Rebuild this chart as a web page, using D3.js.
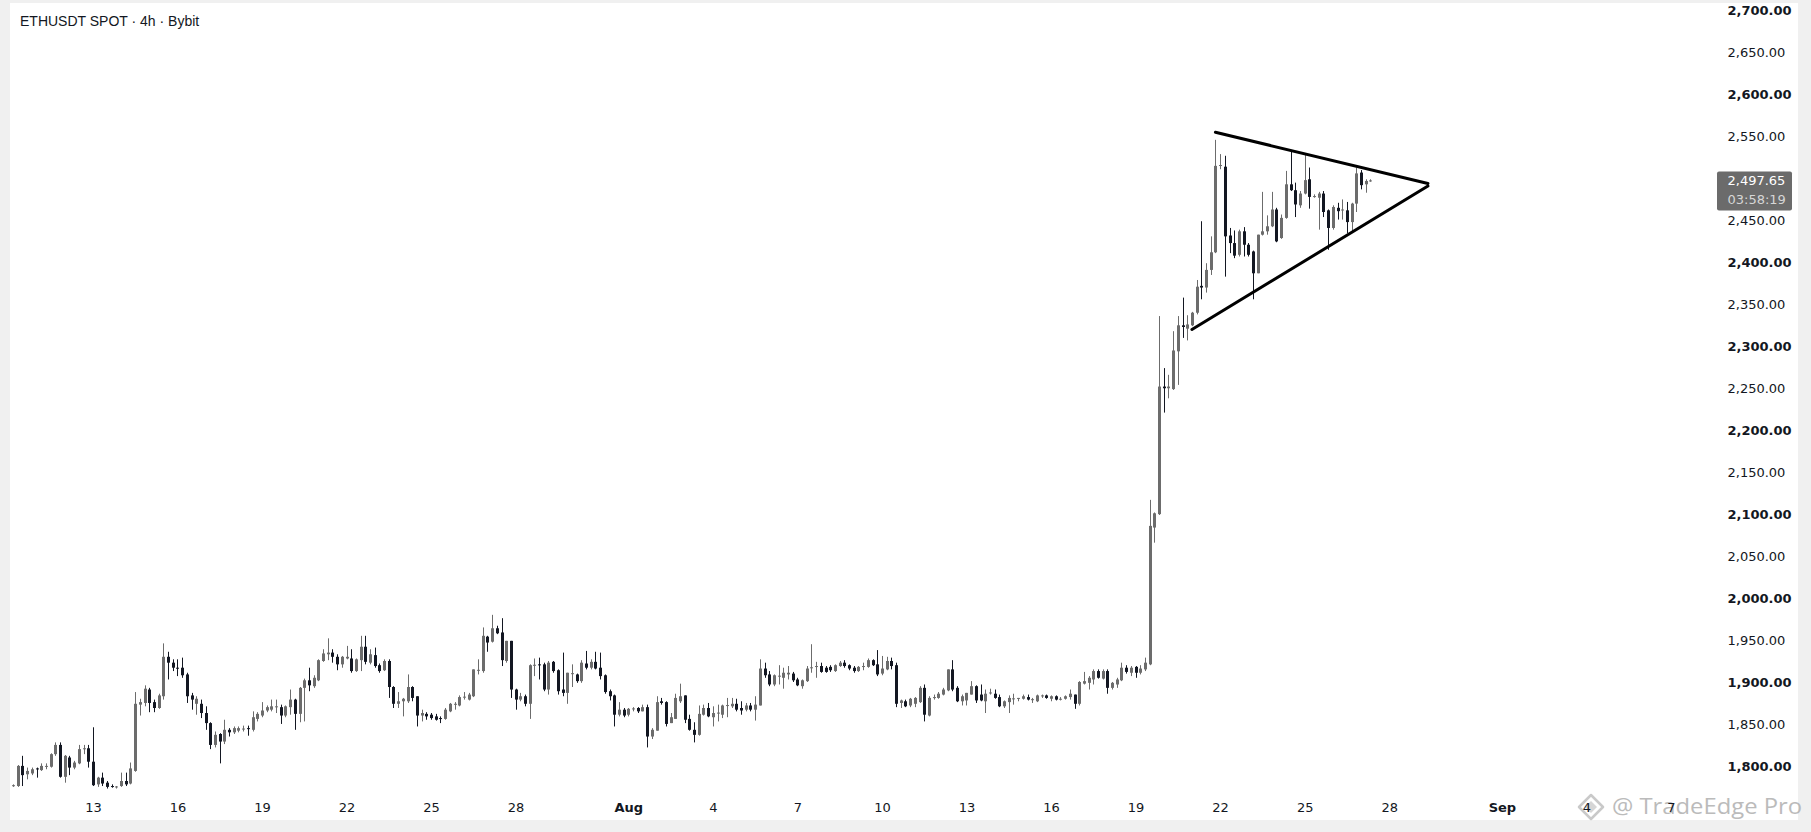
<!DOCTYPE html>
<html><head><meta charset="utf-8">
<script src="https://cdn.jsdelivr.net/npm/d3@7"></script>
<style>html,body{margin:0;padding:0;background:#f0f0f0;overflow:hidden}svg{display:block}</style>
</head><body>
<svg id="c" width="1811" height="832"></svg>
<script>
const title = "ETHUSDT SPOT · 4h · Bybit";
const startTime = "2023-07-10T04:00:00Z";
const barHours = 4;
const opens = [
1776,1776,1800,1790,1791,1797,1795,1799,1799,1814,
1825,1787,1810,1798,1803,1820,1821,1805,1778,1786,
1780,1776,1775,1776,1782,1779,1794,1873,1875,1891,
1876,1869,1883,1930,1923,1917,1917,1909,1884,1874,
1874,1863,1851,1825,1838,1829,1843,1840,1842,1844,
1845,1843,1856,1860,1866,1867,1870,1870,1860,1870,
1879,1862,1893,1902,1895,1902,1925,1933,1935,1930,
1921,1928,1928,1913,1926,1942,1923,1932,1920,1914,
1925,1894,1874,1877,1877,1894,1883,1860,1862,1861,
1859,1857,1856,1865,1873,1872,1882,1879,1883,1914,
1913,1954,1948,1964,1959,1925,1949,1891,1879,1883,
1874,1920,1921,1921,1891,1924,1914,1891,1887,1910,
1909,1901,1922,1917,1924,1917,1908,1889,1884,1861,
1867,1861,1868,1869,1865,1870,1835,1842,1877,1876,
1851,1856,1877,1884,1856,1843,1837,1861,1869,1858,
1863,1861,1872,1871,1874,1869,1867,1872,1867,1872,
1916,1909,1897,1907,1905,1909,1910,1903,1895,1901,
1917,1918,1919,1917,1918,1913,1919,1923,1920,1917,
1913,1918,1918,1926,1921,1910,1915,1925,1920,1875,
1877,1872,1874,1876,1893,1860,1881,1881,1885,1890,
1915,1893,1877,1878,1885,1895,1885,1877,1887,1886,
1882,1871,1876,1880,1880,1880,1882,1879,1877,1883,
1884,1880,1883,1879,1880,1882,1885,1874,1898,1899,
1903,1913,1904,1913,1893,1897,1902,1917,1911,1918,
1911,1915,1921,2084,2100,2252,2250,2249,2294,2325,
2321,2325,2340,2372,2370,2391,2412,2515,2514,2432,
2423,2409,2437,2421,2413,2387,2433,2437,2443,2463,
2429,2453,2493,2486,2468,2482,2499,2478,2477,2482,
2462,2441,2465,2462,2462,2448,2470,2507,2493,2497
];
const highs = [
1778,1801,1812,1798,1798,1798,1803,1803,1815,1828,
1828,1813,1812,1806,1825,1825,1825,1846,1787,1792,
1782,1778,1776,1792,1792,1804,1888,1880,1896,1893,
1879,1886,1946,1936,1927,1927,1929,1911,1887,1883,
1879,1871,1852,1841,1839,1855,1845,1847,1847,1848,
1848,1865,1864,1876,1872,1879,1879,1873,1872,1891,
1880,1894,1904,1917,1908,1927,1939,1952,1939,1933,
1931,1943,1939,1928,1955,1955,1939,1941,1922,1927,
1927,1895,1888,1881,1909,1895,1883,1867,1864,1863,
1862,1859,1869,1875,1876,1884,1888,1887,1915,1927,
1965,1955,1980,1967,1976,1949,1949,1892,1887,1885,
1921,1928,1929,1923,1925,1925,1915,1935,1911,1921,
1910,1926,1937,1927,1936,1935,1909,1891,1885,1876,
1869,1869,1870,1870,1873,1873,1845,1883,1881,1877,
1863,1886,1898,1884,1861,1852,1872,1873,1875,1871,
1873,1873,1881,1881,1880,1877,1875,1875,1883,1927,
1923,1913,1909,1920,1917,1919,1912,1905,1903,1919,
1945,1924,1923,1919,1920,1921,1925,1926,1921,1919,
1919,1923,1928,1927,1938,1931,1930,1929,1923,1879,
1879,1881,1882,1895,1897,1883,1885,1888,1893,1915,
1926,1895,1885,1887,1901,1896,1897,1891,1892,1891,
1885,1878,1884,1886,1881,1885,1885,1881,1885,1885,
1885,1884,1884,1882,1884,1891,1885,1901,1912,1907,
1915,1915,1915,1915,1900,1905,1923,1920,1919,1919,
1920,1929,2117,2102,2336,2274,2266,2318,2336,2358,
2337,2341,2379,2449,2399,2431,2546,2529,2527,2441,
2438,2439,2442,2423,2414,2433,2484,2456,2484,2465,
2457,2509,2532,2495,2485,2530,2513,2481,2484,2485,
2463,2468,2471,2475,2472,2471,2513,2510,2499,2499
];
const lows = [
1775,1775,1776,1784,1789,1786,1794,1796,1798,1812,
1786,1780,1789,1796,1802,1814,1798,1776,1775,1776,
1773,1774,1773,1775,1776,1778,1793,1860,1871,1864,
1864,1868,1879,1903,1913,1907,1905,1875,1867,1861,
1857,1843,1820,1822,1803,1826,1835,1838,1840,1841,
1836,1841,1853,1858,1864,1865,1863,1850,1858,1861,
1843,1852,1853,1889,1893,1901,1924,1926,1923,1914,
1917,1927,1911,1912,1913,1921,1921,1917,1911,1913,
1881,1869,1869,1859,1875,1877,1847,1853,1855,1855,
1854,1851,1855,1864,1867,1871,1879,1878,1882,1909,
1911,1936,1947,1957,1919,1923,1881,1867,1877,1871,
1856,1907,1903,1889,1885,1911,1885,1883,1874,1894,
1899,1899,1915,1915,1915,1903,1886,1878,1847,1859,
1858,1859,1865,1863,1865,1822,1832,1842,1873,1847,
1851,1856,1875,1851,1842,1828,1836,1860,1858,1847,
1853,1857,1858,1869,1865,1861,1865,1865,1854,1872,
1905,1895,1895,1897,1892,1903,1900,1895,1892,1900,
1911,1905,1911,1911,1912,1912,1918,1917,1914,1911,
1912,1914,1917,1919,1907,1908,1914,1915,1870,1869,
1870,1870,1870,1875,1853,1859,1879,1880,1884,1889,
1889,1876,1872,1872,1885,1875,1877,1863,1885,1880,
1870,1869,1863,1873,1877,1879,1878,1875,1876,1881,
1880,1877,1878,1878,1879,1879,1868,1872,1897,1891,
1897,1904,1903,1886,1891,1893,1901,1910,1907,1905,
1909,1913,1920,2066,2099,2221,2238,2248,2254,2310,
2307,2324,2338,2356,2364,2385,2411,2511,2383,2411,
2405,2407,2407,2407,2356,2387,2432,2433,2442,2424,
2428,2452,2485,2454,2465,2481,2464,2477,2439,2454,
2415,2439,2451,2451,2435,2437,2460,2487,2483,2496
];
const closes = [
1777,1800,1789,1794,1796,1796,1800,1800,1814,1825,
1787,1812,1798,1804,1820,1821,1805,1777,1786,1779,
1775,1775,1775.5,1782,1778,1797,1874,1876,1892,1875,
1869,1884,1930,1923,1917,1916,1908,1883,1879,1880,
1863,1851,1825,1837,1829,1843,1840,1845,1845,1844.5,
1844,1858,1862,1866,1870,1871,1871,1860,1871,1879,
1862,1893,1902,1896,1905,1926,1934,1935,1930,1921,
1930,1930,1913,1927,1942,1924,1933,1919,1913,1925,
1894,1874,1877,1880,1894,1881,1860,1863,1859,1857,
1855,1856,1867,1874,1874,1882,1882.5,1885,1915,1914.5,
1955,1947,1964,1958,1926,1949,1891,1879,1883,1874,
1920,1920.5,1920,1891,1923,1913,1889,1887,1911,1910.5,
1901,1923,1917,1924,1916,1907,1888,1883,1861,1867,
1860,1868,1868.5,1865,1870,1835,1843,1876,1875,1850,
1858,1881,1883,1855,1843,1837,1862,1869,1859,1863,
1863.5,1872,1872.5,1874,1867,1866,1872,1867,1873,1916,
1908,1897,1908,1907.5,1911,1911,1902,1896,1902,1916,
1917.5,1919,1912,1912,1914,1920,1923,1919,1916,1913,
1918,1919,1926,1920,1909,1916,1925,1919,1874,1878,
1871,1880,1881,1893,1861,1881,1882,1886,1891,1915,
1891,1877,1883,1887,1895,1878,1878,1886,1887.5,1881,
1871,1877,1881,1880.5,1881,1883,1879,1879.5,1884,1884,
1881,1883,1879,1880,1883,1886,1874,1900,1901,1905,
1913,1905,1913,1893,1899,1903,1917,1912,1917,1911,
1916,1923,2086,2101,2252,2250,2252,2295,2325,2323,
2326,2340,2371,2370,2391,2412,2515,2516,2431,2423,
2408,2437,2421,2409,2387,2433,2437,2443,2463,2425,
2453,2493,2486,2469,2482,2498,2478,2479,2482,2460,
2441,2466,2461,2463,2448,2470,2506,2492,2497,2497.65
];
// 2,500.00 is hidden behind the last-price label in the reference
const priceTicks = [1800,1850,1900,1950,2000,2050,2100,2150,2200,2250,2300,2350,2400,2450,2550,2600,2650,2700];
const dateTicks = ["2023-07-13","2023-07-16","2023-07-19","2023-07-22","2023-07-25","2023-07-28","2023-08-01","2023-08-04","2023-08-07","2023-08-10","2023-08-13","2023-08-16","2023-08-19","2023-08-22","2023-08-25","2023-08-28","2023-09-01","2023-09-04","2023-09-07"];
const dateLabels = ["13","16","19","22","25","28","Aug","4","7","10","13","16","19","22","25","28","Sep","4","7"];
const lastPrice = 2497.65;
const countdown = "03:58:19";
const upperLine = [["2023-08-21T20:00:00Z",2555],["2023-08-29T09:00:00Z",2494]];
const lowerLine = [["2023-08-21T00:00:00Z",2320],["2023-08-29T09:00:00Z",2491]];
const watermark = "@ TradeEdge Pro";

const W = 1811, H = 832;
const UP = "#6c6c6c", DOWN = "#131722";
const svg = d3.select("#c");
svg.append("rect").attr("width", W).attr("height", H).attr("fill", "#f0f0f0");
svg.append("rect").attr("x", 10).attr("y", 3).attr("width", 1788).attr("height", 817).attr("fill", "#ffffff");

const t0 = d3.isoParse(startTime);
const times = opens.map((_, i) => new Date(t0.getTime() + i * barHours * 3600e3));
const tickDates = dateTicks.map(s => d3.isoParse(s + "T00:00:00Z"));
const x = d3.scaleUtc().domain([tickDates[0], tickDates[tickDates.length - 1]]).range([92.9, 1671]);
const y = d3.scaleLinear().domain([1800, 2700]).range([765.9, 10.6]);

// title
svg.append("text").attr("x", 20).attr("y", 26).attr("font-family", "Liberation Sans, Arial, sans-serif")
  .attr("font-size", 14).attr("fill", "#131722").text(title);

// candles
const bars = opens.map((o, i) => ({ t: times[i], o, h: highs[i], l: lows[i], c: closes[i] }));
const cg = svg.append("g");
const cs = cg.selectAll("g").data(bars).join("g");
cs.append("line")
  .attr("x1", d => Math.round(x(d.t)) + 0.5).attr("x2", d => Math.round(x(d.t)) + 0.5)
  .attr("y1", d => y(d.h)).attr("y2", d => y(d.l))
  .attr("stroke", d => d.c >= d.o ? UP : DOWN).attr("stroke-width", 1);
cs.append("rect")
  .attr("x", d => Math.round(x(d.t)) - 1)
  .attr("width", 3)
  .attr("y", d => y(Math.max(d.o, d.c)))
  .attr("height", d => Math.max(1, y(Math.min(d.o, d.c)) - y(Math.max(d.o, d.c))))
  .attr("fill", d => d.c >= d.o ? UP : DOWN);

// triangle lines
const ln = d3.line().x(d => x(d3.isoParse(d[0]))).y(d => y(d[1]));
[upperLine, lowerLine].forEach(L => {
  svg.append("path").attr("d", ln(L)).attr("fill", "none").attr("stroke", "#000")
    .attr("stroke-width", 3).attr("stroke-linecap", "round");
});

// watermark
const wm = svg.append("g").attr("opacity", 0.9);
wm.append("path").attr("d", "M1591,795 L1603,807 L1591,819 L1579,807 Z").attr("fill", "none")
  .attr("stroke", "#c4c4c4").attr("stroke-width", 2.5).attr("stroke-linejoin", "round");
wm.append("path").attr("d", "M1591,801 L1597,807 L1591,813 L1585,807 Z").attr("fill", "#d2d2d2");
wm.append("text").attr("x", 1612).attr("y", 814).attr("font-family", "Open Sans, sans-serif")
  .attr("font-size", 21.5).attr("fill", "#b4b4b4").attr("textLength", 190)
  .attr("lengthAdjust", "spacingAndGlyphs").text(watermark);

// x axis
const xAxis = d3.axisBottom(x).tickValues(tickDates).tickFormat((d, i) => dateLabels[i]).tickSize(0).tickPadding(0);
const xg = svg.append("g").attr("transform", "translate(0,802.5)").call(xAxis);
xg.select(".domain").remove();
xg.selectAll("text").attr("font-family", "DejaVu Sans, sans-serif").attr("font-size", 13)
  .attr("fill", "#131722").attr("font-weight", (d, i) => /[A-Za-z]/.test(dateLabels[i]) ? "bold" : "normal");

// y axis
const yAxis = d3.axisRight(y).tickValues(priceTicks).tickFormat(d3.format(",.2f")).tickSize(0).tickPadding(0);
const yg = svg.append("g").attr("transform", "translate(1727.5,0)").call(yAxis);
yg.select(".domain").remove();
yg.selectAll("text").attr("font-family", "DejaVu Sans, sans-serif").attr("font-size", 13)
  .attr("fill", "#131722").attr("font-weight", d => d % 100 === 0 ? "bold" : "normal");

// last price label
const py = y(lastPrice);
svg.append("rect").attr("x", 1717).attr("y", py - 9).attr("width", 75).attr("height", 39)
  .attr("rx", 2).attr("fill", "#6b6b6b");
svg.append("text").attr("x", 1727.5).attr("y", py).attr("dy", "0.32em")
  .attr("font-family", "DejaVu Sans, sans-serif").attr("font-size", 13).attr("fill", "#ffffff")
  .text(d3.format(",.2f")(lastPrice));
svg.append("text").attr("x", 1727.5).attr("y", py + 19).attr("dy", "0.32em")
  .attr("font-family", "DejaVu Sans, sans-serif").attr("font-size", 13).attr("fill", "#d6d6d6")
  .text(countdown);
</script>
</body></html>
